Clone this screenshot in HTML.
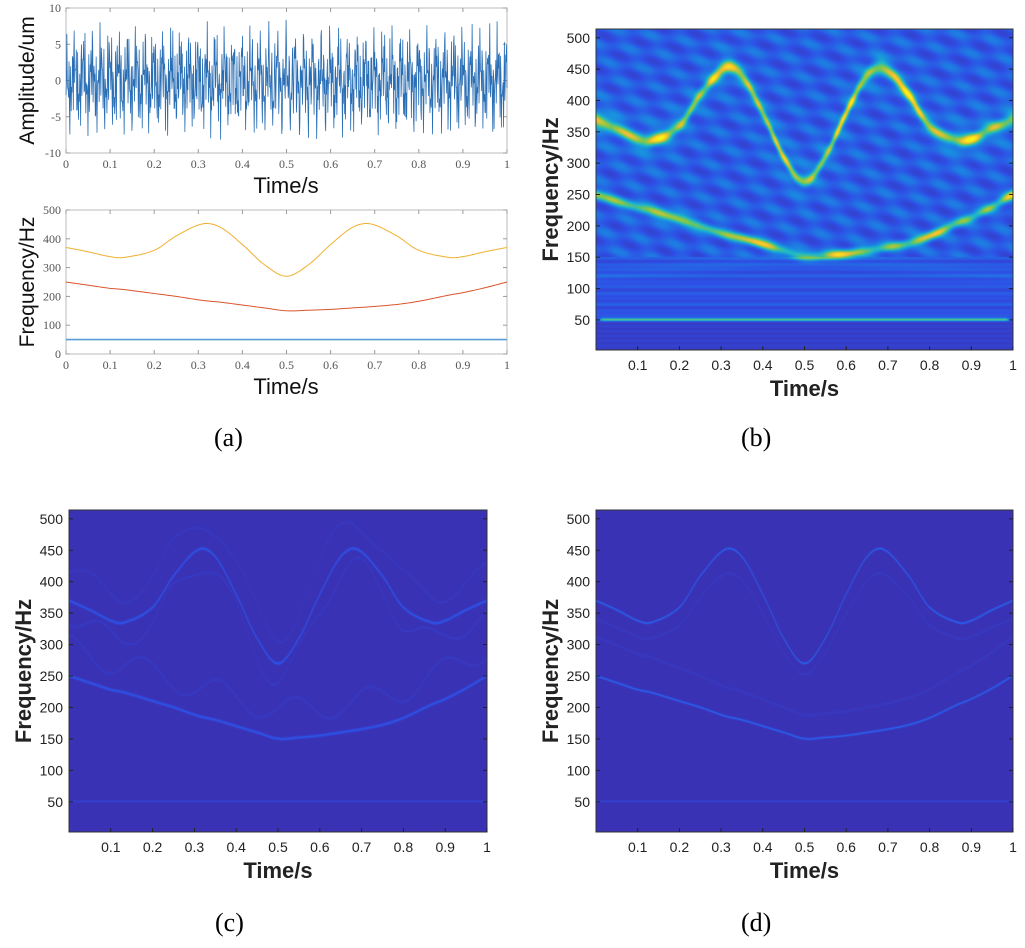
<!DOCTYPE html>
<html><head><meta charset="utf-8">
<style>
body{margin:0;background:#fff;width:1025px;height:948px;overflow:hidden;position:relative;font-family:"Liberation Sans",sans-serif}
.cap{position:absolute;font-family:"Liberation Serif",serif;font-size:26px;color:#000}
canvas,svg{position:absolute;left:0;top:0}
</style></head>
<body>
<svg id="fig" width="1025" height="948"></svg>
<canvas id="cb"></canvas>
<canvas id="cc"></canvas>
<canvas id="cd"></canvas>
<svg id="ov" width="1025" height="948"></svg>
<div class="cap" style="left:214px;top:423px">(a)</div>
<div class="cap" style="left:741px;top:423px">(b)</div>
<div class="cap" style="left:215px;top:908px">(c)</div>
<div class="cap" style="left:741px;top:908px">(d)</div>
<script>
// ---- data ----
const knotTimes = [0,0.05,0.1,0.13,0.2,0.25,0.31,0.35,0.4,0.45,0.5,0.55,0.6,0.65,0.69,0.75,0.8,0.87,0.9,0.95,1];
const ifUpper   = [370,355,338,335,360,410,452,440,380,310,270,310,380,440,452,410,360,335,338,355,370];
const ifMiddle  = [250,239,228,224,210,200,186,180,170,160,150,152,155,160,164,172,183,205,213,230,250];
const ifLow     = [50,50,50,50,50,50,50,50,50,50,50,50,50,50,50,50,50,50,50,50,50];
const timeTicks = [0,0.1,0.2,0.3,0.4,0.5,0.6,0.7,0.8,0.9,1];
const ampTicks  = [-10,-5,0,5,10];
const freqTicksA= [0,100,200,300,400,500];
const freqTicksS= [50,100,150,200,250,300,350,400,450,500];
const timeTicksS= [0.1,0.2,0.3,0.4,0.5,0.6,0.7,0.8,0.9,1];

function gau(d,w){const u=d/w;return Math.exp(-u*u);}
function slope(arr,i){const n=arr.length;const a=Math.max(0,i-1),b=Math.min(n-1,i+1);return (arr[b]-arr[a])/(knotTimes[b]-knotTimes[a]);}
function interp(arr,t){const n=knotTimes.length;for(let i=0;i<n-1;i++){if(t<=knotTimes[i+1]){const h=knotTimes[i+1]-knotTimes[i];const u=(t-knotTimes[i])/h;
  const h00=2*u*u*u-3*u*u+1,h10=u*u*u-2*u*u+u,h01=-2*u*u*u+3*u*u,h11=u*u*u-u*u;
  return h00*arr[i]+h10*h*slope(arr,i)+h01*arr[i+1]+h11*h*slope(arr,i+1);}}return arr[n-1];}
const NS="http://www.w3.org/2000/svg";
function el(svg,tag,attrs,name,txt){const e=document.createElementNS(NS,tag);for(const k in attrs)e.setAttribute(k,attrs[k]);


if(txt!==undefined)e.textContent=txt;svg.appendChild(e);return e;}
const figSvg=document.getElementById('fig'),ovSvg=document.getElementById('ov');

function linAxis(x0,x1,d0,d1){return v=>x0+(v-d0)/(d1-d0)*(x1-x0);}
function panelA(top,bot,yTicks,yd0,yd1,yTitle,name){
  const X=linAxis(66,507,0,1),Y=linAxis(bot,top,yd0,yd1);
  el(figSvg,'rect',{x:66,y:top,width:441,height:bot-top,fill:'#fff',stroke:'#bbb','stroke-width':1},name+'-frame');
  timeTicks.forEach(t=>{el(figSvg,'line',{x1:X(t),x2:X(t),y1:bot,y2:bot-4,stroke:'#999'},name+'-xtick');el(figSvg,'line',{x1:X(t),x2:X(t),y1:top,y2:top+4,stroke:'#999'},name+'-xtick-top');
    el(figSvg,'text',{x:X(t),y:bot+15,'font-size':12,'font-family':'Liberation Serif','text-anchor':'middle',fill:'#555'},name+'-xtick-label',String(t));});
  yTicks.forEach(v=>{el(figSvg,'line',{x1:66,x2:70,y1:Y(v),y2:Y(v),stroke:'#999'},name+'-ytick');el(figSvg,'line',{x1:503,x2:507,y1:Y(v),y2:Y(v),stroke:'#999'},name+'-ytick-r');
    el(figSvg,'text',{x:61,y:Y(v)+4,'font-size':12,'font-family':'Liberation Serif','text-anchor':'end',fill:'#555'},name+'-ytick-label',String(v));});
  el(figSvg,'text',{x:286,y:bot+40,'font-size':22,'text-anchor':'middle',fill:'#111'},name+'-x-title','Time/s');
  el(figSvg,'text',{x:0,y:0,'font-size':21,'text-anchor':'middle',fill:'#111',transform:'translate(34,'+((top+bot)/2)+') rotate(-90)'},name+'-y-title',yTitle);
  return {X,Y};
}
const A1=panelA(8,153,ampTicks,-10,10,'Amplitude/um','signal-plot');
const A2=panelA(210,354,freqTicksA,0,500,'Frequency/Hz','if-plot');
{let p1=0,p2=0,p3=0,d='';const N=1024;for(let i=0;i<=N;i++){const t=i/N;p1+=2*Math.PI*interp(ifUpper,t)/N;p2+=2*Math.PI*interp(ifMiddle,t)/N;p3+=2*Math.PI*interp(ifLow,t)/N;
  const v=3*Math.cos(p1)+3*Math.cos(p2+1)+2.5*Math.cos(p3);d+=(i?'L':'M')+A1.X(t).toFixed(2)+' '+A1.Y(v).toFixed(2);}
 el(figSvg,'path',{d:d,fill:'none',stroke:'#2a6fb5','stroke-width':0.8},'signal-line');}
[[ifUpper,'#f0b030','if-upper-line'],[ifMiddle,'#d9542a','if-middle-line'],[ifLow,'#5b9bd5','if-low-line']].forEach(function(r){
  const arr=r[0],c=r[1],n=r[2];let d='';for(let i=0;i<=200;i++){const t=i/200;d+=(i?'L':'M')+A2.X(t).toFixed(2)+' '+A2.Y(interp(arr,t)).toFixed(2);}
  el(figSvg,'path',{d:d,fill:'none',stroke:c,'stroke-width':n==='if-low-line'?1.6:1},n);});

const stops=[[0,[59,47,176]],[0.2,[46,80,230]],[0.4,[25,140,225]],[0.55,[30,185,200]],[0.7,[120,200,80]],[0.85,[245,190,50]],[1,[249,240,20]]];
function cmap(v){v=Math.max(0,Math.min(1,v));for(let i=0;i<stops.length-1;i++){if(v<=stops[i+1][0]){const u=(v-stops[i][0])/(stops[i+1][0]-stops[i][0]);return stops[i][1].map((c,k)=>c+(stops[i+1][1][k]-c)*u);}}return stops[stops.length-1][1];}
function spectro(id,x0,y0,w,h,mode){
  const cv=document.getElementById(id);cv.width=w;cv.height=h;cv.style.left=x0+'px';cv.style.top=y0+'px';
  const ctx=cv.getContext('2d');const img=ctx.createImageData(w,h);
  const fmin=2,fmax=514;
  for(let x=0;x<w;x++){const t=x/(w-1);const a=interp(ifUpper,t),b=interp(ifMiddle,t),c=interp(ifLow,t);
    const edge=Math.min(1,Math.min(t,1-t)*60);
    for(let y=0;y<h;y++){const f=fmax-(y/(h-1))*(fmax-fmin);let v;
      if(mode==='b'){const wd=6+f*0.01;
        const blob=Math.cos(f*0.16+t*55)*Math.cos(f*0.07-t*30);
        v=0.24+0.12*blob;
        if(f<150) v=0.2+0.07*Math.cos(f*0.55)*Math.cos(f*0.13)+0.05*gau(f-(150-60*Math.abs(t-0.5)),12);
        if(f<48) v=0.1+0.03*Math.cos(f*0.8);
        const modA=0.42+0.2*Math.max(0,Math.cos(t*42)), modB=0.42+0.2*Math.max(0,Math.cos(t*30+1));
        v+=modA*gau(f-a,wd)+modB*gau(f-b,wd)+0.5*edge*gau(f-c,2.5);
        if(f>150) v+=0.08*gau(f-a,35);
      } else {const wd=mode==='c'?2.2:1.6;const g=mode==='c'?0.2:0.26;
        v=0.02+g*gau(f-a,wd)+g*gau(f-b,wd)+0.13*gau(f-c,1.2);
        if(mode==='c'){v+=0.05*gau(f-a+25+15*Math.cos(t*40),2)+0.05*gau(f-b-45-20*Math.cos(t*35),2)+0.04*gau(f-a-45-15*Math.sin(t*33),2);}
        else{v+=0.04*gau(f-a*0.88-15,2)+0.04*gau(f-b*1.25,2);}
      }
      const col=cmap(v);const k=(y*w+x)*4;img.data[k]=col[0];img.data[k+1]=col[1];img.data[k+2]=col[2];img.data[k+3]=255;}}
  ctx.putImageData(img,0,0);
  const X=linAxis(x0,x0+w,0,1),Y=linAxis(y0+h,y0,fmin,fmax);const nm='spectrogram-'+mode;
  el(ovSvg,'rect',{x:x0,y:y0,width:w,height:h,fill:'none',stroke:'#333','stroke-width':1},nm+'-frame');
  freqTicksS.forEach(f=>{el(ovSvg,'line',{x1:x0,x2:x0+4,y1:Y(f),y2:Y(f),stroke:'#222'},nm+'-ytick');el(ovSvg,'line',{x1:x0+w-4,x2:x0+w,y1:Y(f),y2:Y(f),stroke:'#222'},nm+'-ytick-r');
    el(ovSvg,'text',{x:x0-6,y:Y(f)+5,'font-size':14,'text-anchor':'end',fill:'#222'},nm+'-ytick-label',String(f));});
  timeTicksS.forEach(t=>{el(ovSvg,'line',{x1:X(t),x2:X(t),y1:y0+h,y2:y0+h-4,stroke:'#222'},nm+'-xtick');
    el(ovSvg,'text',{x:X(t),y:y0+h+20,'font-size':14,'text-anchor':'middle',fill:'#222'},nm+'-xtick-label',String(t));});
  el(ovSvg,'text',{x:x0+w/2,y:y0+h+46,'font-size':22,'font-weight':'bold','text-anchor':'middle',fill:'#222'},nm+'-x-title','Time/s');
  el(ovSvg,'text',{x:0,y:0,'font-size':22,'font-weight':'bold','text-anchor':'middle',fill:'#222',transform:'translate('+(x0-38)+','+(y0+h/2)+') rotate(-90)'},nm+'-y-title','Frequency/Hz');
}
spectro('cb',596,29,417,321,'b');
spectro('cc',69,510,418,322,'c');
spectro('cd',596,510,417,322,'d');
</script>
</body></html>
